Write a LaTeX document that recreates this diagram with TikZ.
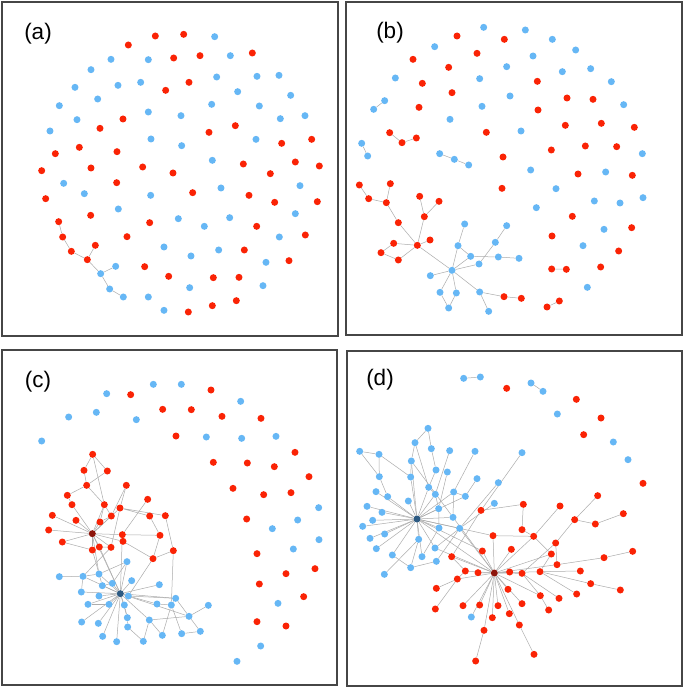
\documentclass[tikz,border=0pt]{standalone}
\usepackage{fontspec}
\setmainfont{Liberation Sans}
\pgfdeclarelayer{bg}
\pgfdeclarelayer{edges}
\pgfsetlayers{bg,edges,main}
\definecolor{dred}{RGB}{250,35,5}
\definecolor{dblue}{RGB}{102,183,245}
\definecolor{hubblue}{RGB}{45,90,130}
\definecolor{hubred}{RGB}{140,20,10}
\definecolor{framec}{RGB}{70,70,70}
\definecolor{edgec}{RGB}{172,172,172}
\begin{document}
\begin{tikzpicture}[x=1pt,y=-1pt,
 dot/.style={circle,inner sep=0pt,minimum size=7pt,draw=none},
 rdot/.style={dot,fill=dred}, bdot/.style={dot,fill=dblue},
 rhub/.style={dot,fill=hubred}, bhub/.style={dot,fill=hubblue},
 edge/.style={draw=edgec,line width=0.5pt},
 frame/.style={draw=framec,line width=1.3pt},
 lbl/.style={font=\fontsize{22.5}{26}\selectfont,inner sep=0pt}]
\useasboundingbox (0,0) rectangle (685,688);
\begin{pgfonlayer}{bg}
\fill[white] (0,0) rectangle (685,688);
\end{pgfonlayer}
\draw[frame] (2,2) rectangle (338,336);
\draw[frame] (346,2) rectangle (682,335);
\draw[frame] (2,350) rectangle (337,685);
\draw[frame] (347,351) rectangle (682,686);
\node[lbl] (la) at (38,34) {(a)};
\node[lbl] (lb) at (390,33) {(b)};
\node[lbl] (lc) at (38,382) {(c)};
\node[lbl] (ld) at (380,380) {(d)};
% ---------------- panel (a)
\begin{scope}[shift={(0pt,0pt)},x=0.33333pt,y=-0.33333pt]
\foreach \p/\q in {466/108,551/103,385/135,521/174,600/167,757/159,497/271,567/247,369/357,300/385,627/397,706/377,238/442,166/461,351/455,845/430,935/418,125/512,273/504,428/501,519/519,730/492,811/521,886/486,958/498,350/548,137/596,578/578,747/586,824/607,952/605,272/646,449/668,770/679,176/665,188/711,381/710,916/705,286/736,214/754,262/779,733/750,867/782,434/800,506/829,640/833,717/832,565/936,637/917,709/902}
  \node[rdot] (a-\p-\q) at (\p,\q) {};
\foreach \p/\q in {644/110,691/167,333/178,445/179,273/209,225/262,354/256,422/247,650/231,771/229,837/226,713/275,293/297,178/317,635/313,778/318,872/286,445/336,543/347,841/356,915/347,231/359,150/393,453/417,545/437,768/418,637/481,191/550,253/581,452/586,663/564,900/557,355/627,535/656,613/679,689/653,886/641,838/711,492/741,573/768,656/750,798/787,347/799,302/821,329/867,370/891,445/891,569/863,789/857,492/931}
  \node[bdot] (a-\p-\q) at (\p,\q) {};
\begin{pgfonlayer}{edges}
\draw[edge] (a-176-665) -- (a-188-711) -- (a-214-754) -- (a-262-779) -- (a-286-736);
\draw[edge] (a-262-779) -- (a-302-821) -- (a-347-799);
\draw[edge] (a-302-821) -- (a-329-867) -- (a-370-891);
\end{pgfonlayer}
\end{scope}
% ---------------- panel (b)
\begin{scope}[shift={(342pt,0pt)},x=0.33333pt,y=-0.33333pt]
\foreach \p/\q in {425/82,550/90,631/118,701/150,278/140,573/168,494/200,661/215,746/206,160/234,413/236,808/245,128/302,95/328,504/288,420/319,845/314,324/358,537/393,59/430,77/468,293/461,337/478,380/495,901/461,566/510,791/516,642/566,583/623,757/603,834/609,903/593,786/688,723/737,736/862,368/672,494/677,348/737,460/727,386/769,469/771,531/775,411/792,330/811,265/827,294/877,343/879,413/876,320/924,440/934}
  \node[bdot] (b-\p-\q) at (\p,\q) {};
\foreach \p/\q in {345/108,487/118,213/178,405/160,320/202,241/250,586/244,330/278,231/322,675/294,753/298,588/330,670/376,778/370,877/382,433/397,143/398,180/428,223/414,628/450,730/438,824/440,483/471,708/522,871/526,480/565,52/555,145/551,80/596,133/608,233/589,291/604,247/650,169/668,155/730,226/736,264/720,117/758,169/780,691/649,630/708,869/683,830/753,776/801,629/807,673/808,486/890,538/895,615/921,652/903}
  \node[rdot] (b-\p-\q) at (\p,\q) {};
\begin{pgfonlayer}{edges}
\draw[edge] (b-128-302) -- (b-95-328);
\draw[edge] (b-143-398) -- (b-180-428) -- (b-223-414);
\draw[edge] (b-59-430) -- (b-77-468);
\draw[edge] (b-293-461) -- (b-337-478) -- (b-380-495);
\draw[edge] (b-52-555) -- (b-80-596) -- (b-133-608) -- (b-145-551);
\draw[edge] (b-133-608) -- (b-169-668) -- (b-226-736);
\draw[edge] (b-233-589) -- (b-247-650) -- (b-291-604);
\draw[edge] (b-247-650) -- (b-226-736) -- (b-264-720);
\draw[edge] (b-226-736) -- (b-155-730) -- (b-117-758) -- (b-169-780) -- (b-226-736);
\foreach \t in {226-736,348-737,386-769,411-792,265-827,294-877,343-879,413-876}
  \draw[edge] (b-330-811) -- (b-\t);
\draw[edge] (b-368-672) -- (b-348-737) -- (b-386-769) -- (b-469-771) -- (b-531-775);
\draw[edge] (b-494-677) -- (b-460-727) -- (b-411-792);
\draw[edge] (b-294-877) -- (b-320-924) -- (b-343-879);
\draw[edge] (b-440-934) -- (b-413-876) -- (b-486-890) -- (b-538-895);
\draw[edge] (b-629-807) -- (b-673-808);
\draw[edge] (b-615-921) -- (b-652-903);
\end{pgfonlayer}
\end{scope}
% ---------------- panel (c)
\begin{scope}[shift={(0pt,-346pt)},x=0.33333pt,y=-0.33333pt]
\foreach \p/\q in {320/143,460/115,544/115,722/166,206/213,289/199,409/221,125/285,619/273,725/277,828/271,956/485,893/522,817/548,957/581,880/609,834/772,782/900,711/946,381/647,178/692,249/691,297/684,307/719,337/712,395/704,478/716,244/738,297/750,385/750,527/757,264/775,327/775,373/777,471/774,514/777,625/778,245/828,295/832,382/815,448/822,567/811,383/843,308/871,350/887,430/886,487/868,545/863,601/856}
  \node[bdot] (c-\p-\q) at (\p,\q) {};
\foreach \p/\q in {392/146,633/132,488/190,574/191,666/211,783/217,528/270,885/319,640/349,742/351,823/362,927/392,699/427,791/446,873/440,740/519,771/623,858/683,945/668,778/714,911/752,771/827,858/840,278/325,252/373,322/375,260/418,379/418,202/448,216/476,313/476,443/460,360/486,157/508,228/523,334/510,300/528,449/510,496/509,146/552,367/566,480/568,187/588,369/586,298/603,333/604,277/612,520/614,459/638}
  \node[rdot] (c-\p-\q) at (\p,\q) {};
\node[rhub] (c-277-563) at (277,563) {};
\node[bhub] (c-361-743) at (361,743) {};
\begin{pgfonlayer}{edges}
\draw[edge] (c-252-373) -- (c-278-325) -- (c-322-375) -- (c-260-418) -- (c-252-373);
\draw[edge] (c-278-325) -- (c-313-476);
\draw[edge] (c-202-448) -- (c-260-418) -- (c-313-476);
\draw[edge] (c-202-448) -- (c-216-476);
\draw[edge] (c-379-418) -- (c-360-486);
\draw[edge] (c-379-418) -- (c-334-510);
\draw[edge] (c-313-476) -- (c-300-528) -- (c-334-510) -- (c-313-476);
\foreach \t in {216-476,157-508,146-552,187-588,228-523,300-528,313-476,334-510,360-486,367-566,369-586,298-603,333-604,277-612,297-684,361-743}
  \draw[edge] (c-277-563) -- (c-\t);
\draw[edge] (c-443-460) -- (c-367-566) -- (c-480-568);
\draw[edge] (c-449-510) -- (c-360-486) -- (c-496-509);
\draw[edge] (c-449-510) -- (c-480-568) -- (c-459-638) -- (c-520-614) -- (c-496-509);
\draw[edge] (c-369-586) -- (c-459-638) -- (c-385-750);
\draw[edge] (c-520-614) -- (c-514-777);
\draw[edge] (c-360-486) -- (c-333-604);
\draw[edge] (c-298-603) -- (c-333-604);
\draw[edge] (c-187-588) -- (c-277-612) -- (c-307-719);
\draw[edge] (c-333-604) -- (c-249-691);
\foreach \t in {298-603,367-566,249-691,297-684,307-719,337-712,395-704,244-738,297-750,385-750,264-775,327-775,373-777,245-828,295-832,382-815,448-822,471-774,527-757,308-871,350-887,478-716,567-811,381-647}
  \draw[edge] (c-361-743) -- (c-\t);
\draw[edge] (c-178-692) -- (c-249-691) -- (c-297-684) -- (c-381-647) -- (c-337-712);
\draw[edge] (c-385-750) -- (c-527-757) -- (c-514-777) -- (c-545-863);
\draw[edge] (c-514-777) -- (c-487-868);
\draw[edge] (c-527-757) -- (c-567-811) -- (c-625-778);
\draw[edge] (c-567-811) -- (c-601-856) -- (c-545-863);
\draw[edge] (c-448-822) -- (c-567-811);
\draw[edge] (c-430-886) -- (c-448-822) -- (c-487-868);
\draw[edge] (c-382-815) -- (c-383-843) -- (c-430-886);
\draw[edge] (c-471-774) -- (c-514-777);
\draw[edge] (c-373-777) -- (c-382-815);
\draw[edge] (c-244-738) -- (c-249-691);
\draw[edge] (c-264-775) -- (c-327-775);
\draw[edge] (c-307-719) -- (c-337-712);
\end{pgfonlayer}
\end{scope}
% ---------------- panel (d)
\begin{scope}[shift={(342pt,-346pt)},x=0.33333pt,y=-0.33333pt]
\foreach \p/\q in {365/97,415/93,567/111,603/136,646/204,814/288,858/341,258/247,219/290,268/308,53/316,111/325,323/314,399/316,540/320,208/345,282/372,316/378,112/392,206/393,405/398,469/410,260/424,102/437,137/452,280/445,335/438,370/451,199/465,457/472,75/481,120/499,290/488,92/523,333/514,62/541,291/546,353/547,128/564,84/577,230/580,103/608,279/606,151/627,240/632,283/646,206/665,127/685,388/813}
  \node[bdot] (d-\p-\q) at (\p,\q) {};
\foreach \p/\q in {494/127,703/160,777/216,725/266,903/412,544/475,654/480,767/449,417/493,844/503,698/521,760/534,540/551,575/571,453/569,641/591,421/615,508/610,628/624,872/616,786/635,329/632,645/656,370/675,408/680,503/678,540/682,594/677,715/675,346/699,283/727,498/730,746/713,835/732,595/749,651/757,704/744,363/779,413/777,468/779,540/773,620/792,280/789,451/815,502/803,532/837,426/853,576/925,401/945}
  \node[rdot] (d-\p-\q) at (\p,\q) {};
\node[bhub] (d-225-519) at (225,519) {};
\node[rhub] (d-457-681) at (457,681) {};
\begin{pgfonlayer}{edges}
\draw[edge] (d-365-97) -- (d-415-93);
\draw[edge] (d-567-111) -- (d-603-136);
\draw[edge] (d-219-290) -- (d-258-247) -- (d-268-308) -- (d-282-372) -- (d-260-424) -- (d-280-445) -- (d-290-488) -- (d-291-546);
\draw[edge] (d-219-290) -- (d-208-345) -- (d-206-393);
\draw[edge] (d-219-290) -- (d-260-424);
\draw[edge] (d-111-325) -- (d-53-316) -- (d-112-392) -- (d-111-325) -- (d-206-393);
\draw[edge] (d-112-392) -- (d-137-452);
\draw[edge] (d-316-378) -- (d-290-488);
\draw[edge] (d-323-314) -- (d-280-445);
\draw[edge] (d-399-316) -- (d-335-438) -- (d-333-514);
\draw[edge] (d-540-320) -- (d-417-493);
\draw[edge] (d-469-410) -- (d-353-547);
\draw[edge] (d-405-398) -- (d-370-451) -- (d-335-438);
\draw[edge] (d-208-345) -- (d-333-514);
\draw[edge] (d-457-472) -- (d-353-547);
\foreach \t in {102-437,137-452,75-481,120-499,92-523,62-541,128-564,84-577,103-608,151-627,230-580,199-465,206-393,260-424,280-445,290-488,333-514,291-546,353-547,279-606,240-632,335-438,370-451,208-345,457-681,421-615,453-569}
  \draw[edge] (d-225-519) -- (d-\t);
\draw[edge] (d-230-580) -- (d-206-665) -- (d-151-627);
\draw[edge] (d-206-665) -- (d-283-646) -- (d-353-547) -- (d-279-606);
\draw[edge] (d-240-632) -- (d-291-546);
\draw[edge] (d-127-685) -- (d-230-580);
\draw[edge] (d-353-547) -- (d-457-681);
\foreach \t in {329-632,370-675,408-680,346-699,363-779,413-777,468-779,451-815,426-853,502-803,498-730,503-678,540-682,594-677,540-773,532-837,421-615,508-610,453-569,575-571,628-624,645-656,388-813,595-749,279-606,333-514}
  \draw[edge] (d-457-681) -- (d-\t);
\draw[edge] (d-426-853) -- (d-401-945);
\draw[edge] (d-532-837) -- (d-576-925);
\draw[edge] (d-417-493) -- (d-544-475) -- (d-540-551) -- (d-575-571) -- (d-453-569);
\draw[edge] (d-417-493) -- (d-329-632) -- (d-370-675) -- (d-346-699) -- (d-283-727);
\draw[edge] (d-346-699) -- (d-280-789);
\draw[edge] (d-654-480) -- (d-575-571) -- (d-628-624) -- (d-594-677);
\draw[edge] (d-767-449) -- (d-698-521) -- (d-760-534) -- (d-844-503);
\draw[edge] (d-698-521) -- (d-641-591) -- (d-645-656) -- (d-786-635) -- (d-872-616);
\draw[edge] (d-641-591) -- (d-540-682);
\draw[edge] (d-715-675) -- (d-594-677) -- (d-746-713) -- (d-835-732);
\draw[edge] (d-704-744) -- (d-594-677);
\draw[edge] (d-651-757) -- (d-540-682) -- (d-595-749) -- (d-620-792);
\end{pgfonlayer}
\end{scope}
\end{tikzpicture}
\end{document}
